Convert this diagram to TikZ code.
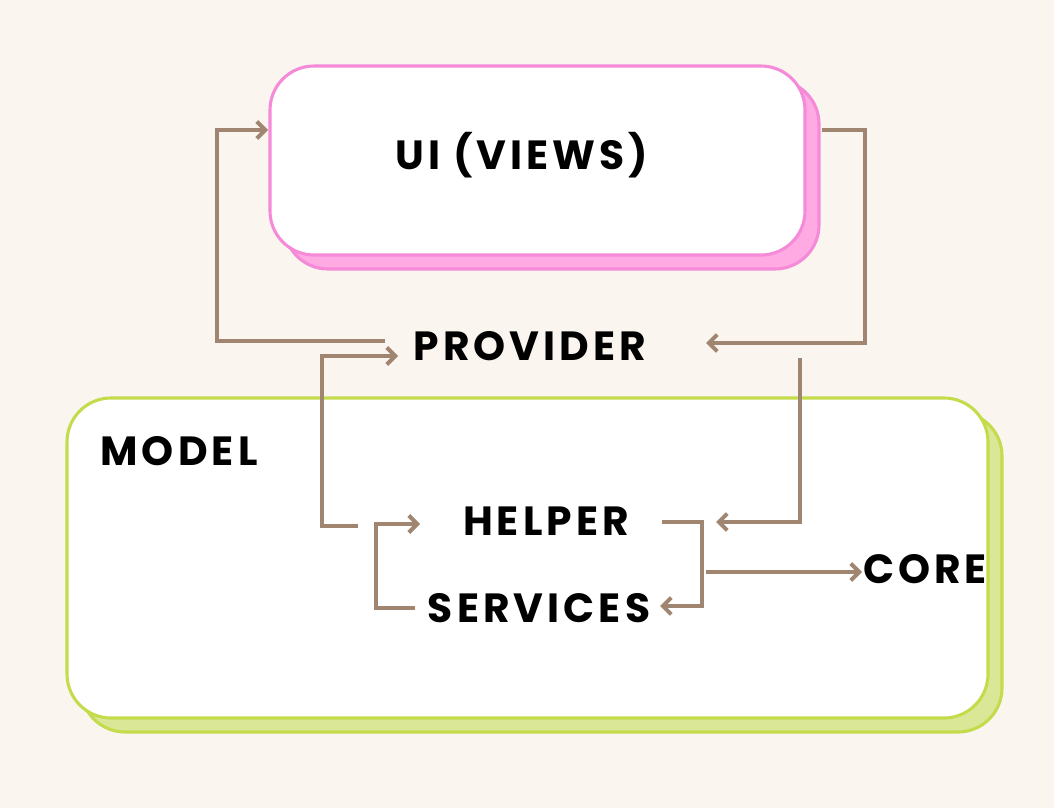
\documentclass[tikz,border=0pt]{standalone}
\usepackage{fontspec}
\setmainfont{Poppins}[LetterSpace=10]
\usetikzlibrary{arrows.meta}
\definecolor{bg}{HTML}{FAF5EF}
\definecolor{pinkline}{HTML}{F58AD8}
\definecolor{pinkfill}{HTML}{FFAAE2}
\definecolor{greenline}{HTML}{C4DC4C}
\definecolor{greenfill}{HTML}{D9E797}
\definecolor{arr}{HTML}{A08670}
\tikzset{
  box/.style={rounded corners=1.1cm, line width=2.2pt, fill=white},
  shadowbox/.style={rounded corners=1.1cm, line width=2.2pt},
  lbl/.style={font=\bfseries\fontsize{29}{34}\selectfont, inner sep=0pt},
  flow/.style={draw=arr, line width=2.8pt, -{Straight Barb[length=6pt,width=12pt]}}
}
\begin{document}
\begin{tikzpicture}[x=0.025cm,y=-0.025cm]
\fill[bg] (0,0) rectangle (1054,808);
% UI box
\draw[shadowbox, draw=pinkline, fill=pinkfill] (284,80) rectangle (819,269);
\draw[box, draw=pinkline] (270,66) rectangle (805,255);
% Model box
\draw[shadowbox, draw=greenline, fill=greenfill] (81,412) rectangle (1002,732);
\draw[box, draw=greenline] (67,398) rectangle (988,718);
% texts
\node[lbl] (ui) at (522,155) {UI (VIEWS)};
\node[lbl] (prov) at (530,346) {PROVIDER};
\node[lbl] (model) at (179,451) {MODEL};
\node[lbl] (help) at (546,521) {HELPER};
\node[lbl] (serv) at (539,608) {SERVICES};
\node[lbl] (core) at (925,569) {CORE};
% connector anchors
\coordinate (a1) at (385,341); \coordinate (a2) at (268,130);
\coordinate (b1) at (822,130); \coordinate (b2) at (706,343);
\coordinate (c1) at (358,526); \coordinate (c2) at (398,356);
\coordinate (d1) at (800,358); \coordinate (d2) at (716,522);
\coordinate (e1) at (415,608); \coordinate (e2) at (420,524);
\coordinate (f1) at (662,522); \coordinate (f2) at (660,606);
\coordinate (g1) at (706,572); \coordinate (g2) at (862,572);
\draw[flow] (a1) -- (217,341) -- (217,130) -- (a2);
\draw[flow] (b1) -- (865,130) -- (865,343) -- (b2);
\draw[flow] (c1) -- (322,526) -- (322,356) -- (c2);
\draw[flow] (d1) -- (800,522) -- (d2);
\draw[flow] (e1) -- (376,608) -- (376,524) -- (e2);
\draw[flow] (f1) -- (702,522) -- (702,606) -- (f2);
\draw[flow] (g1) -- (g2);
\end{tikzpicture}
\end{document}
